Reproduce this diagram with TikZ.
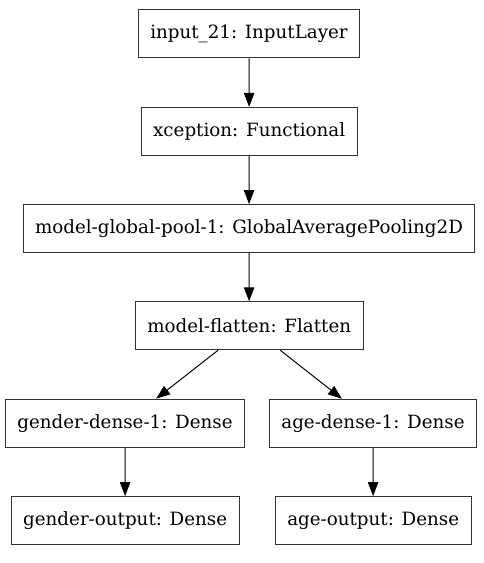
\documentclass[tikz,border=0pt]{standalone}
\usepackage{fontspec}
\setmainfont{DejaVu Serif}
\usetikzlibrary{arrows.meta}

\begin{document}
\begin{tikzpicture}[
	layer/.style={draw=black!80, line width=0.7pt, minimum height=1.2cm, inner xsep=0.3cm, font=\fontsize{13}{15}\selectfont},
	edge/.style={line width=0.7pt, -{Triangle[length=0.35cm, width=0.26cm]}}
]
	\useasboundingbox (0,0) rectangle (12.1,14.075);
	
	%%% Слои
	
	% Общая часть
	\node[layer] (inp) at (6.225,13.23) {input\_21: InputLayer};
	\node[layer] (xcp) at (6.23,10.79) {xception: Functional};
	\node[layer] (pool) at (6.225,8.36) {model-global-pool-1: GlobalAveragePooling2D};
	\node[layer] (flat) at (6.23,5.93) {model-flatten: Flatten};
	
	% Ветка пола
	\node[layer] (gdense) at (3.125,3.495) {gender-dense-1: Dense};
	\node[layer] (gout) at (3.13,1.06) {gender-output: Dense};
	
	% Ветка возраста
	\node[layer] (adense) at (9.325,3.495) {age-dense-1: Dense};
	\node[layer] (aout) at (9.33,1.06) {age-output: Dense};
	
	%%% Связи
	
	\draw[edge] (inp) -- (xcp);
	\draw[edge] (xcp) -- (pool);
	\draw[edge] (pool) -- (flat);
	\draw[edge] (flat) -- (gdense);
	\draw[edge] (flat) -- (adense);
	\draw[edge] (gdense) -- (gout);
	\draw[edge] (adense) -- (aout);
\end{tikzpicture}
\end{document}
